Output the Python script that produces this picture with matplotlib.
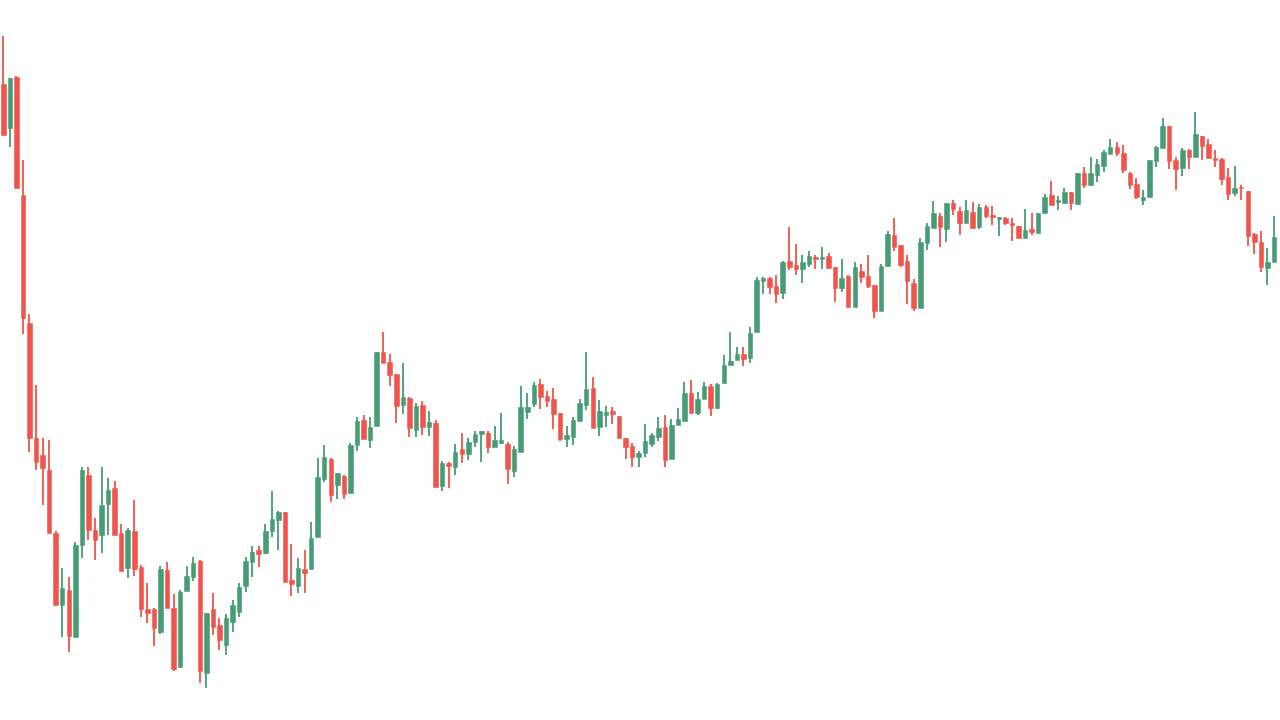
"""
Candlestick chart redrawn from a screenshot, no axes, white background.
"""
import numpy as np
import matplotlib
matplotlib.use('Agg')
import matplotlib.pyplot as plt

# OHLC values (arbitrary price units)
opens = [636, 592, 643, 525, 397, 282, 265, 250, 187, 115, 130, 83, 175, 245, 190, 185, 216, 232, 187, 152,
         189, 153, 111, 111, 88, 150, 112, 53, 129, 143, 159, 47, 111, 95, 75, 98, 108, 134, 158, 170,
         167, 189, 200, 208, 140, 134, 151, 151, 183, 241, 261, 235, 244, 227, 275, 300, 280, 294, 368, 358,
         346, 315, 322, 290, 315, 293, 297, 234, 257, 253, 271, 266, 278, 286, 287, 273, 277, 276, 249, 268,
         308, 316, 336, 324, 321, 307, 281, 283, 299, 315, 332, 293, 305, 309, 304, 282, 274, 263, 267, 276,
         283, 293, 261, 295, 299, 327, 307, 321, 334, 312, 337, 355, 360, 366, 362, 388, 439, 442, 434, 427,
         459, 455, 451, 456, 463, 461, 464, 453, 432, 444, 413, 449, 444, 435, 409, 454, 485, 475, 459, 437,
         412, 477, 492, 504, 491, 517, 509, 497, 508, 493, 513, 505, 501, 502, 497, 494, 482, 491, 487, 507,
         525, 518, 517, 528, 516, 547, 535, 545, 554, 566, 573, 567, 547, 536, 520, 523, 559, 572, 594, 560,
         552, 570, 563, 584, 576, 562, 561, 543, 527, 533, 529, 486, 478, 452, 458]
highs = [684, 642, 644, 560, 406, 335, 282, 280, 189, 152, 143, 178, 253, 253, 202, 253, 242, 239, 196, 192,
         220, 155, 137, 112, 154, 158, 126, 130, 154, 163, 160, 107, 127, 102, 106, 120, 137, 163, 174, 174,
         196, 229, 209, 208, 176, 162, 170, 198, 262, 275, 262, 247, 245, 277, 303, 305, 303, 368, 388, 366,
         346, 357, 323, 317, 319, 309, 300, 259, 258, 276, 287, 282, 289, 289, 289, 294, 307, 278, 274, 334,
         327, 338, 341, 329, 332, 307, 294, 303, 321, 368, 343, 320, 314, 313, 304, 282, 277, 269, 296, 287,
         303, 305, 301, 312, 338, 340, 328, 338, 336, 337, 365, 388, 373, 373, 393, 443, 443, 443, 445, 459,
         493, 476, 465, 469, 465, 473, 467, 453, 461, 445, 458, 456, 465, 435, 456, 489, 502, 475, 465, 441,
         482, 497, 519, 507, 517, 520, 513, 520, 518, 516, 515, 514, 503, 503, 502, 494, 511, 507, 507, 526,
         539, 524, 532, 528, 547, 553, 563, 561, 570, 581, 578, 575, 548, 542, 530, 560, 574, 602, 594, 563,
         572, 571, 608, 584, 581, 570, 562, 552, 554, 535, 529, 487, 489, 472, 504]
lows = [585, 573, 532, 386, 268, 250, 215, 187, 115, 83, 68, 83, 162, 180, 160, 167, 185, 185, 149, 142,
        144, 103, 97, 74, 86, 112, 49, 52, 129, 139, 37, 32, 85, 70, 65, 88, 103, 128, 143, 153,
        166, 183, 170, 138, 124, 127, 127, 151, 183, 238, 218, 221, 221, 227, 269, 281, 272, 294, 357, 334,
        297, 306, 283, 283, 285, 284, 233, 229, 232, 245, 257, 260, 273, 258, 267, 273, 276, 236, 243, 268,
        301, 313, 311, 313, 291, 279, 273, 275, 299, 310, 292, 284, 293, 296, 282, 261, 253, 253, 263, 273,
        279, 253, 261, 295, 299, 307, 305, 321, 304, 311, 337, 355, 360, 354, 357, 388, 426, 426, 417, 421,
        450, 445, 437, 453, 451, 451, 452, 418, 428, 413, 413, 437, 432, 402, 409, 454, 469, 453, 416, 409,
        412, 470, 492, 473, 478, 505, 485, 497, 492, 491, 502, 495, 484, 495, 479, 482, 482, 485, 487, 507,
        515, 510, 517, 510, 516, 532, 535, 538, 548, 566, 564, 547, 531, 521, 515, 523, 553, 572, 551, 530,
        544, 551, 563, 560, 562, 553, 535, 520, 524, 520, 474, 466, 448, 435, 458]
closes = [585, 642, 532, 402, 282, 258, 252, 187, 115, 132, 84, 175, 250, 190, 180, 215, 230, 185, 149, 190,
          151, 111, 107, 92, 151, 112, 51, 128, 144, 157, 49, 107, 93, 80, 102, 115, 133, 159, 168, 166,
          189, 201, 208, 138, 136, 152, 147, 182, 243, 263, 225, 247, 226, 275, 299, 281, 293, 368, 357, 345,
          314, 323, 292, 314, 293, 298, 233, 257, 254, 268, 266, 278, 286, 289, 273, 280, 280, 251, 271, 313,
          313, 335, 323, 319, 306, 281, 285, 300, 317, 331, 292, 309, 308, 306, 282, 273, 263, 267, 279, 285,
          292, 260, 295, 301, 327, 307, 321, 334, 312, 336, 355, 359, 366, 361, 387, 440, 442, 433, 426, 458,
          453, 451, 458, 464, 461, 463, 452, 432, 442, 413, 453, 443, 434, 409, 454, 486, 473, 455, 439, 412,
          478, 494, 507, 493, 517, 511, 497, 510, 492, 513, 504, 503, 503, 497, 495, 482, 490, 488, 507, 523,
          515, 520, 528, 517, 547, 535, 547, 556, 568, 573, 567, 550, 535, 523, 523, 560, 573, 594, 559, 551,
          570, 563, 586, 574, 562, 560, 541, 526, 532, 532, 484, 478, 453, 458, 483]

UP_COLOR = '#479c76'
DOWN_COLOR = '#f0544c'


def draw_candles(ax, o, h, l, c, width=0.68):
    x = np.arange(len(o))
    o, h, l, c = map(np.asarray, (o, h, l, c))
    colors = np.where(c >= o, UP_COLOR, DOWN_COLOR)

    ax.vlines(x, l, h, colors=colors, linewidth=1.3)
    bottom = np.minimum(o, c)
    height = np.maximum(np.abs(c - o), 1.2)
    ax.bar(x, height, bottom=bottom, width=width, color=colors,
           edgecolor=colors, linewidth=0.4)
    return len(x)


def main():
    fig = plt.figure(figsize=(12.8, 7.2), dpi=100)
    ax = fig.add_axes([0, 0, 1, 1])
    n = draw_candles(ax, opens, highs, lows, closes)
    ax.set_xlim(-0.5, n - 0.08)
    ax.set_ylim(0, 720)
    ax.axis('off')
    fig.savefig('out.png', dpi=100, facecolor='white')
    plt.close(fig)


if __name__ == '__main__':
    main()
